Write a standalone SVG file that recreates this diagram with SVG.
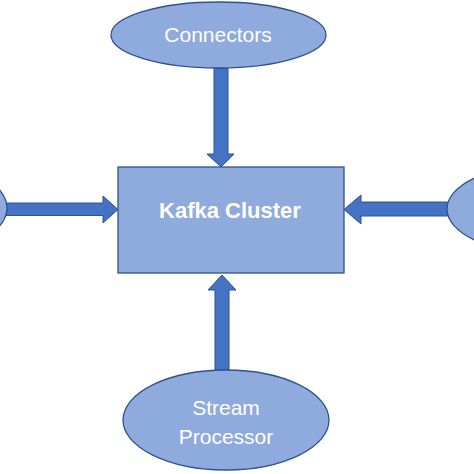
<svg xmlns="http://www.w3.org/2000/svg" width="474" height="474" viewBox="0 0 474 474">
<style>
.node{fill:#8faadc;stroke:#2f528f;stroke-width:1.3}
.arrow{fill:#4472c4;stroke:#2f528f;stroke-width:1}
.lbl{font-family:"Liberation Sans",Arial,sans-serif;font-size:21px;fill:#ffffff;text-anchor:middle}
.bold{font-weight:bold;font-size:22px}
</style>
<rect width="474" height="474" fill="#ffffff"/>
<g id="connectors">
<path class="arrow" d="M214,68 H228 V154 H234 L221,167 L207,154 H214 Z"/>
<path class="arrow" d="M0,203 H103 V196 L118,209.5 L103,223 V215.5 H0 Z"/>
<path class="arrow" d="M474,202 H361 V195 L344,209.5 L361,224 V216 H474 Z"/>
<path class="arrow" d="M215,370 V290 H208 L222,275 L236,290 H229 V370 Z"/>
</g>
<g id="node-connectors">
<ellipse class="node" cx="218.5" cy="35" rx="107.5" ry="33"/>
<text class="lbl" x="218" y="42">Connectors</text>
</g>
<g id="node-left">
<ellipse class="node" cx="-93" cy="208" rx="100" ry="48"/>
</g>
<g id="node-right">
<ellipse class="node" cx="547" cy="209" rx="100" ry="45"/>
</g>
<g id="node-kafka">
<rect class="node" x="118" y="167" width="226" height="106"/>
<text class="lbl bold" x="230" y="218">Kafka Cluster</text>
</g>
<g id="node-stream">
<ellipse class="node" cx="226" cy="420" rx="103" ry="50"/>
<text class="lbl" x="226" y="415">Stream</text>
<text class="lbl" x="226" y="444">Processor</text>
</g>
</svg>
